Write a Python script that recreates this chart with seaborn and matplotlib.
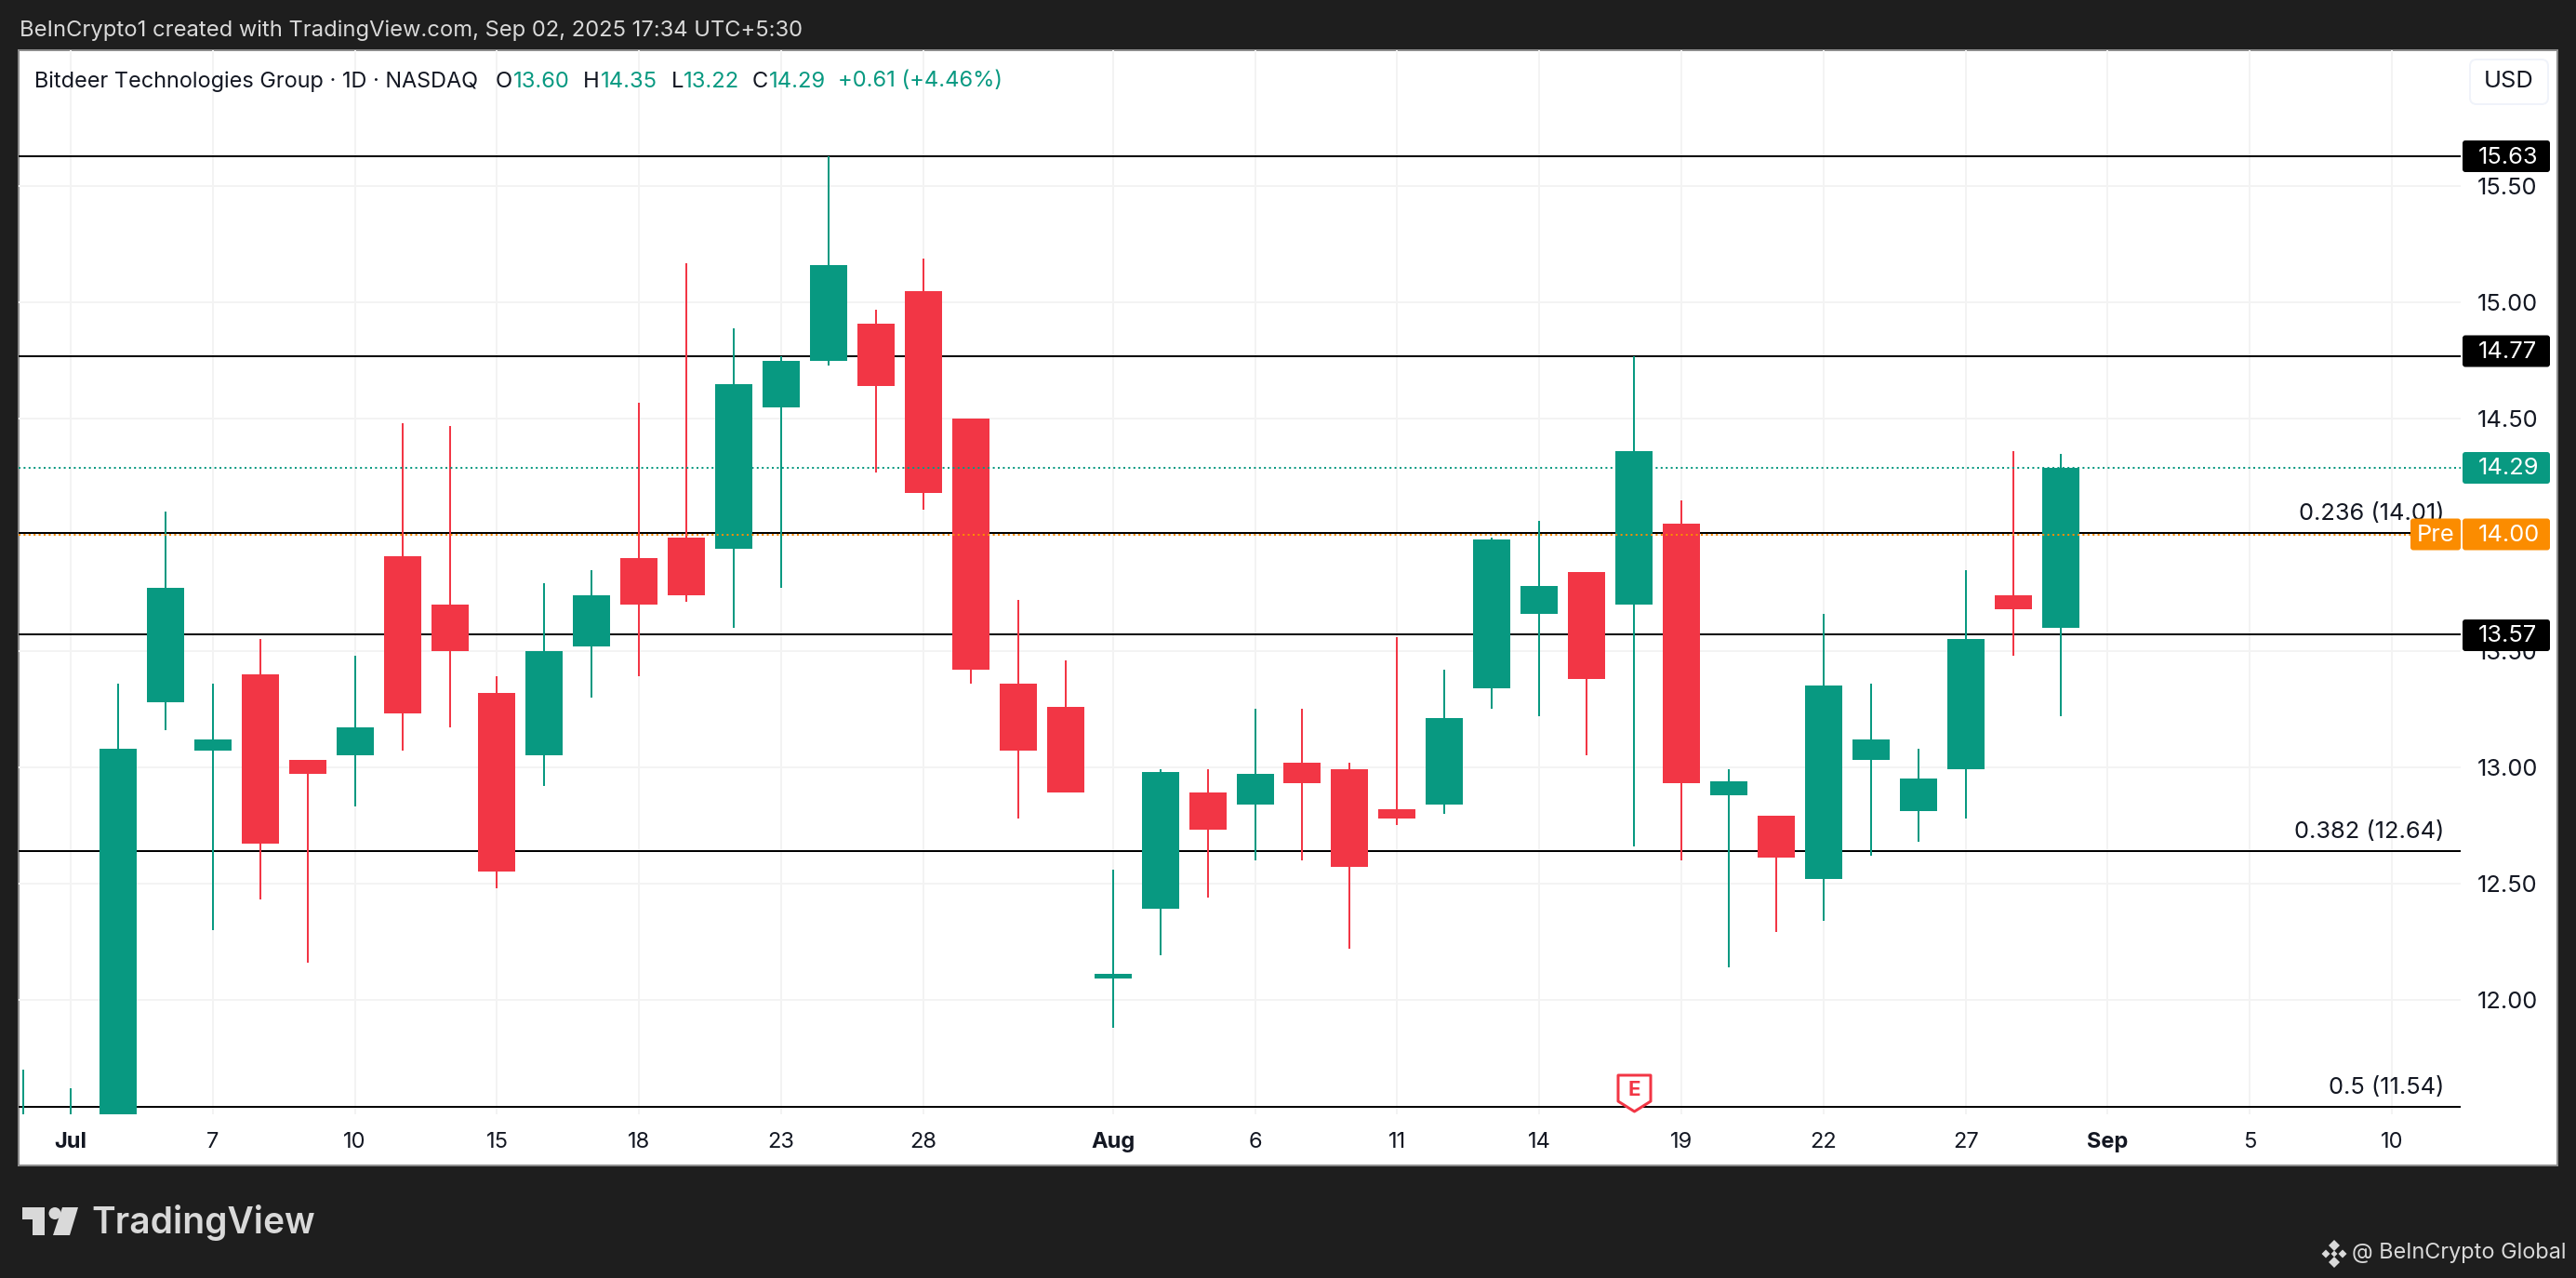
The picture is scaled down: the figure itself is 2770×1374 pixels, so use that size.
import numpy as np
import pandas as pd
import seaborn as sns
import matplotlib.pyplot as plt
from matplotlib.patches import Rectangle, FancyBboxPatch, Polygon, Circle

# daily candles, first two are mostly below the visible range
bar_idx = list(range(-1, 43))
opens = [11.30, 11.35, 11.35, 13.28, 13.07, 13.40, 13.03, 13.05, 13.91, 13.70, 13.32,
         13.05, 13.52, 13.90, 13.99, 13.94, 14.55, 14.75, 14.91, 15.05, 14.50,
         13.36, 13.26, 12.09, 12.39, 12.89, 12.84, 13.02, 12.99, 12.82, 12.84,
         13.34, 13.66, 13.84, 13.70, 14.05, 12.88, 12.79, 12.52, 13.03, 12.81,
         12.99, 13.74, 13.60]
highs = [11.70, 11.62, 13.36, 14.10, 13.36, 13.55, 13.03, 13.48, 14.48, 14.47, 13.39,
         13.79, 13.85, 14.57, 15.17, 14.89, 14.77, 15.63, 14.97, 15.19, 14.50,
         13.72, 13.46, 12.56, 12.99, 12.99, 13.25, 13.25, 13.02, 13.56, 13.42,
         13.99, 14.06, 13.84, 14.77, 14.15, 12.99, 12.79, 13.66, 13.36, 13.08,
         13.85, 14.36, 14.35]
lows = [11.25, 11.30, 11.30, 13.16, 12.30, 12.43, 12.16, 12.83, 13.07, 13.17, 12.48,
        12.92, 13.30, 13.39, 13.71, 13.60, 13.77, 14.73, 14.27, 14.11, 13.36,
        12.78, 12.89, 11.88, 12.19, 12.44, 12.60, 12.60, 12.22, 12.75, 12.80,
        13.25, 13.22, 13.05, 12.66, 12.60, 12.14, 12.29, 12.34, 12.62, 12.68,
        12.78, 13.48, 13.22]
closes = [11.42, 11.45, 13.08, 13.77, 13.12, 12.67, 12.97, 13.17, 13.23, 13.50, 12.55,
          13.50, 13.74, 13.70, 13.74, 14.65, 14.75, 15.16, 14.64, 14.18, 13.42,
          13.07, 12.89, 12.11, 12.98, 12.73, 12.97, 12.93, 12.57, 12.78, 13.21,
          13.98, 13.78, 13.38, 14.36, 12.93, 12.94, 12.61, 13.35, 13.12, 12.95,
          13.55, 13.68, 14.29]

x_ticks = [0, 3, 6, 9, 12, 15, 18, 22, 25, 28, 31, 34, 37, 40, 43, 46, 49]
x_labels = ['Jul', '7', '10', '15', '18', '23', '28', 'Aug', '6', '11', '14', '19', '22', '27', 'Sep', '5', '10']
month_labels = ['Jul', 'Aug', 'Sep']
y_ticks = [12.0, 12.5, 13.0, 13.5, 14.0, 14.5, 15.0, 15.5]
y_tick_labels = ['12.00', '12.50', '13.00', '13.50', '', '14.50', '15.00', '15.50']

line_levels = [15.63, 14.77, 14.01, 13.57, 12.64, 11.54]
fib_levels = [14.01, 12.64, 11.54]
fib_labels = ['0.236 (14.01)', '0.382 (12.64)', '0.5 (11.54)']
last_price = 14.29
pre_price = 14.00

DARK = '#1e1e1e'
GREEN = '#089981'
RED = '#f23645'
ORANGE = '#fb8c00'
INK = '#131722'
LIGHT = '#d9d9d9'

W, H = 2770, 1374
PX = 72 / 100  # one pixel in points
SCALE_FONT = 18.3
TEXT_FONT = 17.1

sns.set_theme(style='whitegrid', rc={'grid.color': '#f3f3f3', 'grid.linewidth': 2 * PX})
plt.rcParams['font.family'] = ['Inter', 'DejaVu Sans']

df = pd.DataFrame({'bar': bar_idx, 'open': opens, 'high': highs, 'low': lows, 'close': closes})
df['up'] = df['close'] >= df['open']
df['bottom'] = df[['open', 'close']].min(axis=1)
df['height'] = (df['close'] - df['open']).abs()

fig = plt.figure(figsize=(W / 100, H / 100), dpi=100, facecolor=DARK)

# white panel behind the chart
bg = fig.add_axes([0, 0, 1, 1], zorder=0)
bg.set_xlim(0, W)
bg.set_ylim(H, 0)
bg.axis('off')
bg.add_patch(Rectangle((20, 54), 2730, 1199, facecolor='white', edgecolor='#8c8c8c', linewidth=2 * PX))

left, right, top, bottom = 20, 2646, 54, 1198
ax = fig.add_axes([left / W, 1 - bottom / H, (right - left) / W, (bottom - top) / H], zorder=1)
ax.set_facecolor('none')

for is_up, colour in [(True, GREEN), (False, RED)]:
    part = df[df['up'] == is_up]
    sns.barplot(data=part, x='bar', y='height', bottom=part['bottom'].values, native_scale=True,
                color=colour, saturation=1, width=0.785, errorbar=None, linewidth=0, zorder=4, ax=ax)
    ax.vlines(part['bar'], part['low'], part['high'], color=colour, linewidth=2 * PX, zorder=3)

ax.hlines(line_levels, 0, 1, transform=ax.get_yaxis_transform(), color='black', linewidth=2 * PX, zorder=2)
ax.axhline(last_price, color=GREEN, linewidth=2 * PX, linestyle=(0, (1, 1.7)), zorder=5)
ax.axhline(pre_price, color=ORANGE, linewidth=2 * PX, linestyle=(0, (1, 1.7)), zorder=5)

for level, label in zip(fib_levels, fib_labels):
    ax.annotate(label, xy=(1, level), xycoords=ax.get_yaxis_transform(), xytext=(-18 * PX, 9 * PX),
                textcoords='offset points', ha='right', va='bottom', fontsize=SCALE_FONT, color=INK, zorder=6)

ax.set_xlim(-1.099, 50.45)
ax.set_ylim(11.506, 16.086)
ax.set_xticks(x_ticks)
ax.set_xticklabels(x_labels)
ax.set_yticks(y_ticks)
ax.set_yticklabels(y_tick_labels)
ax.yaxis.tick_right()
ax.tick_params(axis='x', length=0, pad=14, labelsize=17, labelcolor=INK)
ax.tick_params(axis='y', length=0, pad=13, labelsize=SCALE_FONT, labelcolor=INK)
for lab in ax.get_xticklabels():
    if lab.get_text() in month_labels:
        lab.set_fontweight('bold')
ax.set_xlabel('')
ax.set_ylabel('')
ax.grid(True, zorder=0)
ax.set_axisbelow(True)
sns.despine(ax=ax, left=True, right=True, top=True, bottom=True)

# everything outside the plot sits on a pixel overlay
ov = fig.add_axes([0, 0, 1, 1], zorder=2)
ov.set_xlim(0, W)
ov.set_ylim(H, 0)
ov.axis('off')

ov.text(21, 33, 'BeInCrypto1 created with TradingView.com, Sep 02, 2025 17:34 UTC+5:30',
        color=LIGHT, fontsize=TEXT_FONT, va='center')

legend_parts = [(37, 'Bitdeer Technologies Group · 1D · NASDAQ', INK, 16.9), (533, 'O', INK, TEXT_FONT),
                (552, '13.60', GREEN, TEXT_FONT), (627, 'H', INK, TEXT_FONT), (646, '14.35', GREEN, TEXT_FONT),
                (722, 'L', INK, TEXT_FONT), (735, '13.22', GREEN, TEXT_FONT), (809, 'C', INK, TEXT_FONT),
                (827, '14.29', GREEN, TEXT_FONT), (901, '+0.61 (+4.46%)', GREEN, TEXT_FONT)]
for x, txt, col, size in legend_parts:
    ov.text(x, 87.5, txt, color=col, fontsize=size, va='center')

ov.add_patch(FancyBboxPatch((2656, 64), 84, 48, boxstyle='round,pad=0,rounding_size=7',
                            facecolor='white', edgecolor='#f0f3fa', linewidth=2 * PX))
ov.text(2698, 87, 'USD', color=INK, fontsize=SCALE_FONT, ha='center', va='center')

price_boxes = [(168, '15.63', 'black'), (377.5, '14.77', 'black'), (503, '14.29', GREEN),
               (574.5, '14.00', ORANGE), (683, '13.57', 'black')]
for yc, txt, col in price_boxes:
    ov.add_patch(FancyBboxPatch((2648, yc - 17), 94, 34, boxstyle='round,pad=0,rounding_size=3',
                                facecolor=col, edgecolor='none'))
    ov.text(2665, yc + 1, txt, color='white', fontsize=SCALE_FONT, va='center')
ov.add_patch(FancyBboxPatch((2592, 557.5), 54, 34, boxstyle='round,pad=0,rounding_size=3',
                            facecolor=ORANGE, edgecolor='none'))
ov.text(2619, 575.5, 'Pre', color='white', fontsize=SCALE_FONT, ha='center', va='center')

# earnings flag
ov.add_patch(Polygon([(1740, 1156), (1775, 1156), (1775, 1184), (1757.5, 1195), (1740, 1184)],
                     closed=True, facecolor='white', edgecolor=RED, linewidth=3 * PX, joinstyle='round'))
ov.text(1757.5, 1172, 'E', color=RED, fontsize=16, fontweight='bold', ha='center', va='center')

# TradingView mark
ov.add_patch(Polygon([(24, 1298), (48, 1298), (48, 1328), (35, 1328), (35, 1311), (24, 1311)], closed=True,
                     facecolor=LIGHT, edgecolor='none'))
ov.add_patch(Circle((59, 1304.5), 6.5, facecolor=LIGHT, edgecolor='none'))
ov.add_patch(Polygon([(67, 1298), (84, 1298), (75, 1328), (57, 1328)], closed=True, facecolor=LIGHT, edgecolor='none'))
ov.text(98, 1315, 'TradingView', color=LIGHT, fontsize=28, fontweight='semibold', va='center')

# watermark
for cx, cy, r in [(2510, 1339, 6), (2501, 1348, 4.5), (2519, 1348, 4.5), (2510, 1348, 3.5), (2510, 1357, 6)]:
    ov.add_patch(Polygon([(cx, cy - r), (cx + r, cy), (cx, cy + r), (cx - r, cy)], closed=True,
                         facecolor=LIGHT, edgecolor='none'))
ov.text(2529, 1347, '@ BeInCrypto Global', color=LIGHT, fontsize=16.9, va='center')

fig.savefig('out.png', dpi=100, facecolor=DARK)
